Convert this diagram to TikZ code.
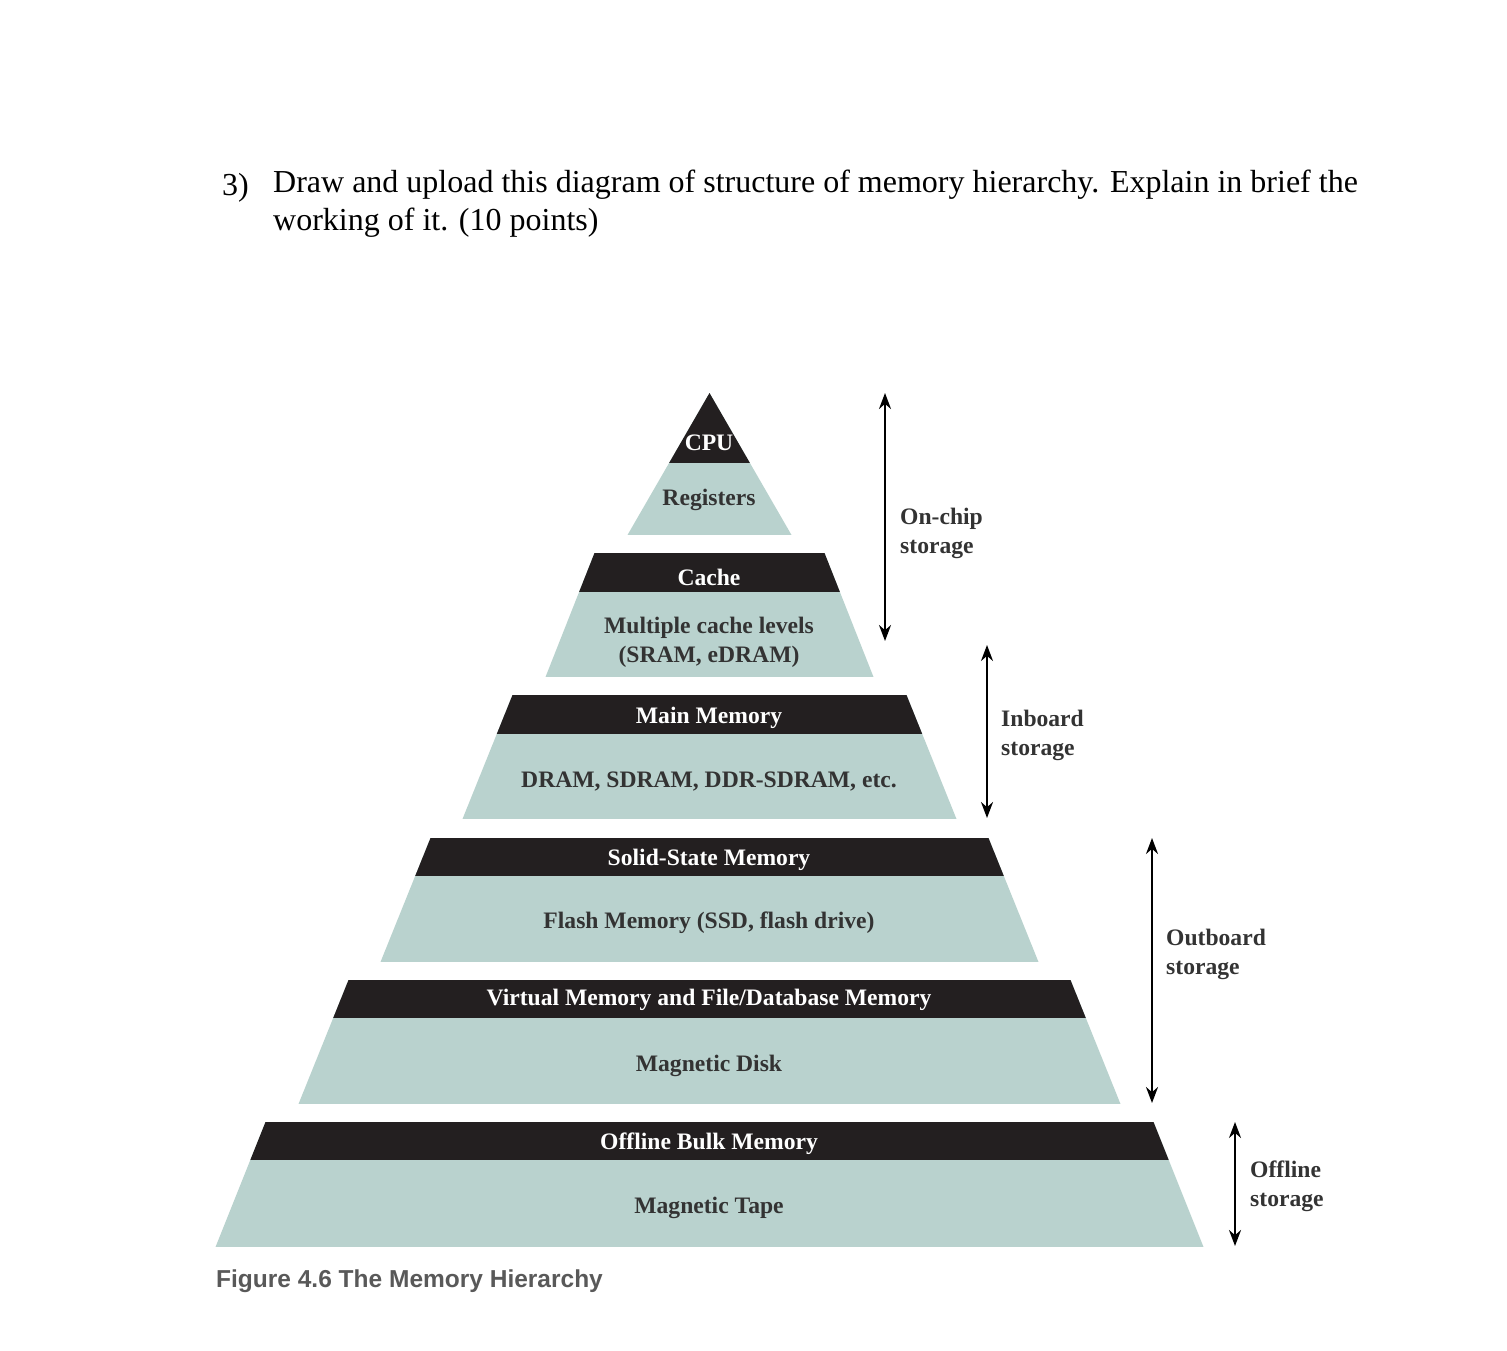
\documentclass[tikz,border=0pt]{standalone}
\usepackage{fontspec}
\setmainfont{Liberation Serif}
\newfontfamily\capfont{Liberation Sans}
\usetikzlibrary{arrows.meta}
\definecolor{band}{HTML}{B9D2CE}
\definecolor{dark}{HTML}{231F20}
\definecolor{txt}{HTML}{333333}
\begin{document}
\begin{tikzpicture}[x=1pt,y=-1pt,
  lt/.style={font=\bfseries\fontsize{23.6}{27}\selectfont,text=txt,inner sep=0pt},
  dk/.style={font=\bfseries\fontsize{23.6}{27}\selectfont,text=white,inner sep=0pt},
  side/.style={font=\bfseries\fontsize{23.6}{29}\selectfont,text=txt,align=left,anchor=west,inner sep=0pt},
  arr/.style={line width=2.2pt,{Stealth[length=16pt,width=12pt]}-{Stealth[length=16pt,width=12pt]}}]
\useasboundingbox (0,0) rectangle (1507,1350);
\fill[white] (0,0) rectangle (1507,1350);
\newcommand{\tier}[5]{%
  \begin{scope}
  \path[clip] (709.5-#4,#1) -- (709.5+#4,#1) -- (709.5+#5,#3) -- (709.5-#5,#3) -- cycle;
  \fill[band] (0,#1) rectangle (1507,#3);
  \fill[dark] (0,#1) rectangle (1507,#2);
  \end{scope}}
\tier{393}{463}{535}{0}{82}
\tier{553}{592}{677}{115}{164}
\tier{695}{734}{819}{197}{247}
\tier{838}{876}{962}{279}{329}
\tier{980}{1018}{1104}{361}{411}
\tier{1122}{1160}{1247}{444}{494}
\node[dk] (cpu) at (709,443) {CPU};
\node[lt] (reg) at (709,500) {Registers};
\node[dk] (cache) at (709,577) {Cache};
\node[lt,align=center,font=\bfseries\fontsize{23.6}{29}\selectfont] (mcl) at (709,642) {Multiple cache levels\\(SRAM, eDRAM)};
\node[dk] (mm) at (709,718) {Main Memory};
\node[lt] (dram) at (709,781) {DRAM, SDRAM, DDR-SDRAM, etc.};
\node[dk] (ssm) at (709,860) {Solid-State Memory};
\node[lt] (flash) at (709,923) {Flash Memory (SSD, flash drive)};
\node[dk] (vm) at (709,1000) {Virtual Memory and File/Database Memory};
\node[lt] (disk) at (709,1066) {Magnetic Disk};
\node[dk] (obm) at (709,1144) {Offline Bulk Memory};
\node[lt] (tape) at (709,1208) {Magnetic Tape};
\coordinate (a1) at (885,393); \coordinate (b1) at (885,641);
\coordinate (a2) at (987,645); \coordinate (b2) at (987,818);
\coordinate (a3) at (1152,838); \coordinate (b3) at (1152,1103);
\coordinate (a4) at (1235,1122); \coordinate (b4) at (1235,1246);
\draw[arr] (a1) -- (b1);
\draw[arr] (a2) -- (b2);
\draw[arr] (a3) -- (b3);
\draw[arr] (a4) -- (b4);
\node[side] (l1) at (900,533) {On-chip\\storage};
\node[side] (l2) at (1001,735) {Inboard\\storage};
\node[side] (l3) at (1166,954) {Outboard\\storage};
\node[side] (l4) at (1250,1186) {Offline\\storage};
\node[font=\capfont\bfseries\fontsize{24.5}{28}\selectfont,text=black!65,anchor=west,inner sep=0pt] (cap) at (216,1281) {Figure 4.6 The Memory Hierarchy};
\node[font=\fontsize{32}{38}\selectfont,anchor=west,inner sep=0pt] (qn) at (222,188) {3)};
\node[font=\fontsize{32}{38}\selectfont,anchor=north west,align=left,inner sep=0pt] (q) at (273,170) {Draw and upload this diagram of structure of memory hierarchy. Explain in brief the\\working of it. (10 points)};
\end{tikzpicture}
\end{document}
